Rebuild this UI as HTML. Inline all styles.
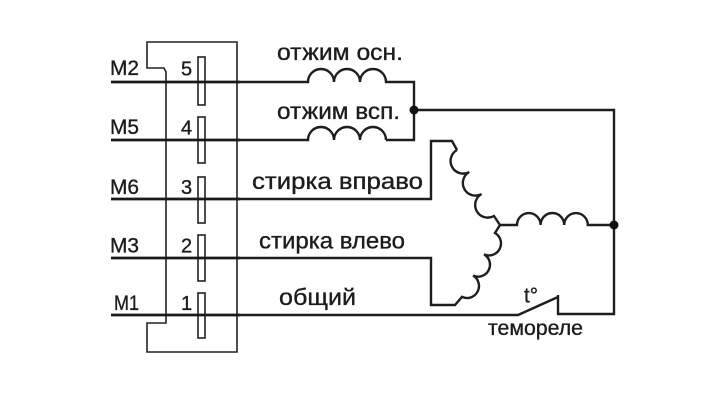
<!DOCTYPE html>
<html>
<head>
<meta charset="utf-8">
<style>
html,body{margin:0;padding:0;background:#fff;}
svg{display:block;}
text{font-family:"Liberation Sans","Noto Sans CJK SC",sans-serif;fill:#1c1c1c;stroke:#1c1c1c;stroke-width:0.35;}
</style>
</head>
<body>
<svg width="720" height="405" viewBox="0 0 720 405" xmlns="http://www.w3.org/2000/svg">
  <rect width="720" height="405" fill="#fff"/>
  <!-- connector outline -->
  <path d="M147,42 L237,42 L237,352 L147,352 L147,323 L166,323 L166,72 L164,68 L147,68 Z" fill="none" stroke="#222" stroke-width="1.6"/>
  <!-- pins -->
  <g fill="#fff" stroke="#222" stroke-width="1.6">
    <rect x="198" y="57" width="7" height="48"/>
    <rect x="198" y="117" width="7" height="46"/>
    <rect x="198" y="177" width="7" height="46"/>
    <rect x="198" y="235" width="7" height="46"/>
    <rect x="198" y="293" width="7" height="45"/>
  </g>
  <!-- M lines (thick) -->
  <g stroke="#1a1a1a" stroke-width="2.8" fill="none">
    <line x1="111" y1="82" x2="240" y2="82"/>
    <line x1="111" y1="140" x2="240" y2="140"/>
    <line x1="111" y1="199" x2="240" y2="199"/>
    <line x1="111" y1="258" x2="240" y2="258"/>
    <line x1="111" y1="315" x2="240" y2="315"/>
  </g>
  <!-- wires -->
  <g stroke="#1e1e1e" stroke-width="2.4" fill="none" stroke-linejoin="miter">
    <path d="M238,82 L308,82 a13,13 0 0 1 26,0 a13,13 0 0 1 26,0 a13,13 0 0 1 26,0 L414,82 L414,140 L386,140"/>
    <path d="M238,140 L308,140 a13,13 0 0 1 26,0 a13,13 0 0 1 26,0 a13,13 0 0 1 26,0"/>
    <path d="M414,110 L614,110 L614,314 L558,314 L558,295"/>
    <path d="M238,199 L431,199 L431,141 L452,141 L457,150"/>
    <path d="M457,150 a12.6,12.6 0 0 0 12.3,22 a12.6,12.6 0 0 0 12.3,22 a12.6,12.6 0 0 0 12.3,22 L500,225"/>
    <path d="M500,225 L517,225 a11.8,12 0 0 1 23.6,0 a11.8,12 0 0 1 23.6,0 a11.8,12 0 0 1 23.6,0 L614,225"/>
    <path d="M500,225 L495,233 a12,12 0 0 1 -11,21.3 a12,12 0 0 1 -11,21.3 a12,12 0 0 1 -11,21.3 L455,305 L431,305 L431,258 L238,258"/>
    <path d="M238,315 L518,315 L558,297"/>
  </g>
  <circle cx="414" cy="110" r="4.5" fill="#111"/>
  <circle cx="614" cy="225" r="4.5" fill="#111"/>

  <g font-size="21">
    <text x="110" y="75" textLength="29" lengthAdjust="spacingAndGlyphs">M2</text>
    <text x="110" y="134" textLength="29" lengthAdjust="spacingAndGlyphs">M5</text>
    <text x="110" y="194" textLength="29" lengthAdjust="spacingAndGlyphs">M6</text>
    <text x="110" y="252.5" textLength="29" lengthAdjust="spacingAndGlyphs">M3</text>
    <text x="114" y="310" textLength="25" lengthAdjust="spacingAndGlyphs">M1</text>
  </g>
  <g font-size="20">
    <text x="181" y="75.5">5</text>
    <text x="181" y="134.3">4</text>
    <text x="181" y="194">3</text>
    <text x="181" y="252.7">2</text>
    <text x="181" y="310">1</text>
  </g>
  <g font-size="23">
    <text x="277" y="60" textLength="126" lengthAdjust="spacingAndGlyphs">отжим осн.</text>
    <text x="277" y="119" textLength="123" lengthAdjust="spacingAndGlyphs">отжим всп.</text>
    <text x="252" y="189" textLength="171" lengthAdjust="spacingAndGlyphs">стирка вправо</text>
    <text x="259" y="248.3" textLength="146" lengthAdjust="spacingAndGlyphs">стирка влево</text>
    <text x="279" y="305" textLength="77" lengthAdjust="spacingAndGlyphs">общий</text>
  </g>
  <text x="524" y="302.5" font-size="21" textLength="14" lengthAdjust="spacingAndGlyphs">t°</text>
  <text x="488" y="335" font-size="21" textLength="95" lengthAdjust="spacingAndGlyphs">теморелe</text>
</svg>
</body>
</html>
